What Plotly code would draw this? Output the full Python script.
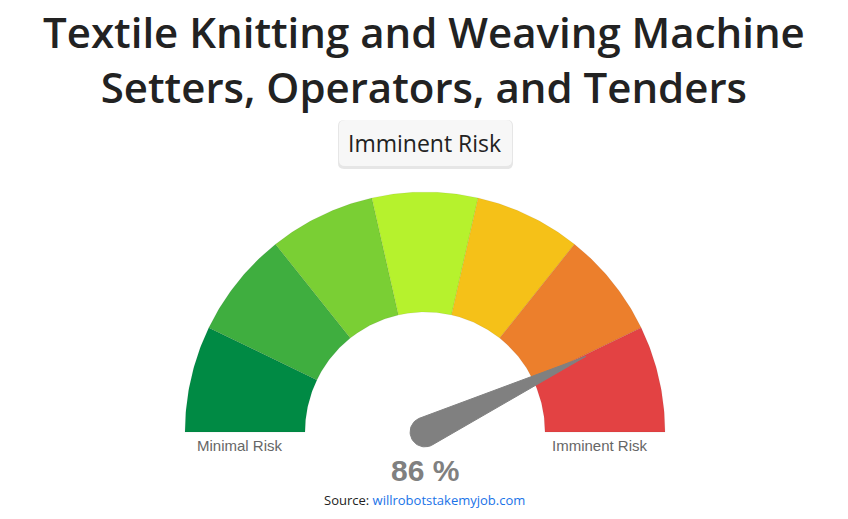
import numpy as np
import plotly.graph_objects as go

# gauge data
band_edges = [0, 14.3, 28.6, 42.9, 57.1, 71.4, 85.7, 100]
band_colors = ["#008a44", "#3fae3f", "#7acf34", "#b6f22d", "#f5c118", "#ec7f2c", "#e34243"]
risk_value = 86
end_labels = ["Minimal Risk", "Imminent Risk"]
title_lines = ["Textile Knitting and Weaving Machine", "Setters, Operators, and Tenders"]
risk_label = "Imminent Risk"
source_site = "willrobotstakemyjob.com"

R_OUT, R_IN = 1.0, 0.5
W, H = 848, 519
PX = 240.0  # pixels per gauge unit
CX, CY = 425, 432  # gauge center in pixels


def to_angle(v):
    return np.pi * (1 - v / 100.0)


def py(p):
    # pixel row -> paper y
    return 1 - p / H


def px(p):
    return p / W


fig = go.Figure()

for i, col in enumerate(band_colors):
    t = np.linspace(to_angle(band_edges[i]), to_angle(band_edges[i + 1]), 40)
    xs = np.concatenate([R_OUT * np.cos(t), R_IN * np.cos(t[::-1])])
    ys = np.concatenate([R_OUT * np.sin(t), R_IN * np.sin(t[::-1])])
    fig.add_trace(go.Scatter(
        x=np.append(xs, xs[0]), y=np.append(ys, ys[0]),
        mode="lines", fill="toself", fillcolor=col,
        line=dict(color="rgba(0,0,0,0.06)", width=1),
        hoverinfo="skip", showlegend=False,
    ))

# needle
a = to_angle(risk_value)
base_r, tip_r = 0.062, 0.74
back = np.linspace(a + np.pi / 2, a + 3 * np.pi / 2, 30)
nx = np.concatenate([base_r * np.cos(back), [tip_r * np.cos(a)]])
ny = np.concatenate([base_r * np.sin(back), [tip_r * np.sin(a)]])
fig.add_trace(go.Scatter(
    x=np.append(nx, nx[0]), y=np.append(ny, ny[0]), mode="lines", fill="toself",
    fillcolor="#808080", line=dict(color="#808080", width=1),
    hoverinfo="skip", showlegend=False,
))

lab_font = dict(family="Liberation Sans, Arial", size=15, color="#666666")
fig.add_annotation(x=-0.77, y=0, text=end_labels[0], showarrow=False, yanchor="top",
                   yshift=-3, font=lab_font)
fig.add_annotation(x=0.73, y=0, text=end_labels[1], showarrow=False, yanchor="top",
                   yshift=-3, font=lab_font)
fig.add_annotation(x=0, y=0, text="<b>%d %%</b>" % risk_value, showarrow=False,
                   yanchor="top", yshift=-20,
                   font=dict(family="Liberation Sans, Arial", size=30, color="#808080"))

title_font = dict(family="Open Sans", size=42, color="#222222", weight=600)
fig.add_annotation(xref="paper", yref="paper", x=px(424), y=py(59),
                   text="<br>".join(title_lines),
                   showarrow=False, yanchor="middle", font=title_font)

# subtitle box with soft shadow
x0, x1, y0, y1, r = px(339), px(512), py(166), py(120), 6.0 / W
rr = 6.0 / H


def rounded(x0, x1, y0, y1):
    return ("M %f,%f L %f,%f Q %f,%f %f,%f L %f,%f Q %f,%f %f,%f L %f,%f Q %f,%f %f,%f "
            "L %f,%f Q %f,%f %f,%f Z" % (
                x0 + r, y1, x1 - r, y1, x1, y1, x1, y1 - rr, x1, y0 + rr, x1, y0, x1 - r, y0,
                x0 + r, y0, x0, y0, x0, y0 + rr, x0, y1 - rr, x0, y1, x0 + r, y1))


fig.add_shape(type="path", xref="paper", yref="paper",
              path=rounded(x0 - 1 / W, x1 + 1 / W, y0 - 3 / H, y1),
              fillcolor="#e6e6e6", line=dict(width=0), layer="below")
fig.add_shape(type="path", xref="paper", yref="paper", path=rounded(x0, x1, y0, y1),
              fillcolor="#f7f7f7", line=dict(width=0), layer="below")
fig.add_annotation(xref="paper", yref="paper", x=px(425), y=py(143), text=risk_label,
                   showarrow=False, yanchor="middle",
                   font=dict(family="Open Sans", size=23, color="#222222"))

fig.add_annotation(xref="paper", yref="paper", x=px(425), y=py(500),
                   text="Source: <a href='https://%s' style='color:#1a73e8'>%s</a>" % (source_site, source_site),
                   showarrow=False, yanchor="middle",
                   font=dict(family="Open Sans", size=13, color="#222222"))

fig.update_xaxes(range=[-CX / PX, (W - CX) / PX], visible=False, fixedrange=True)
fig.update_yaxes(range=[-(H - CY) / PX, CY / PX], visible=False, fixedrange=True)
fig.update_layout(
    width=W, height=H, margin=dict(l=0, r=0, t=0, b=0),
    plot_bgcolor="white", paper_bgcolor="white",
)

# drop the page's default body margin so the figure fills the window
fig.write_html("out.html", config={"displayModeBar": False},
               post_script="document.body.style.margin='0';")
